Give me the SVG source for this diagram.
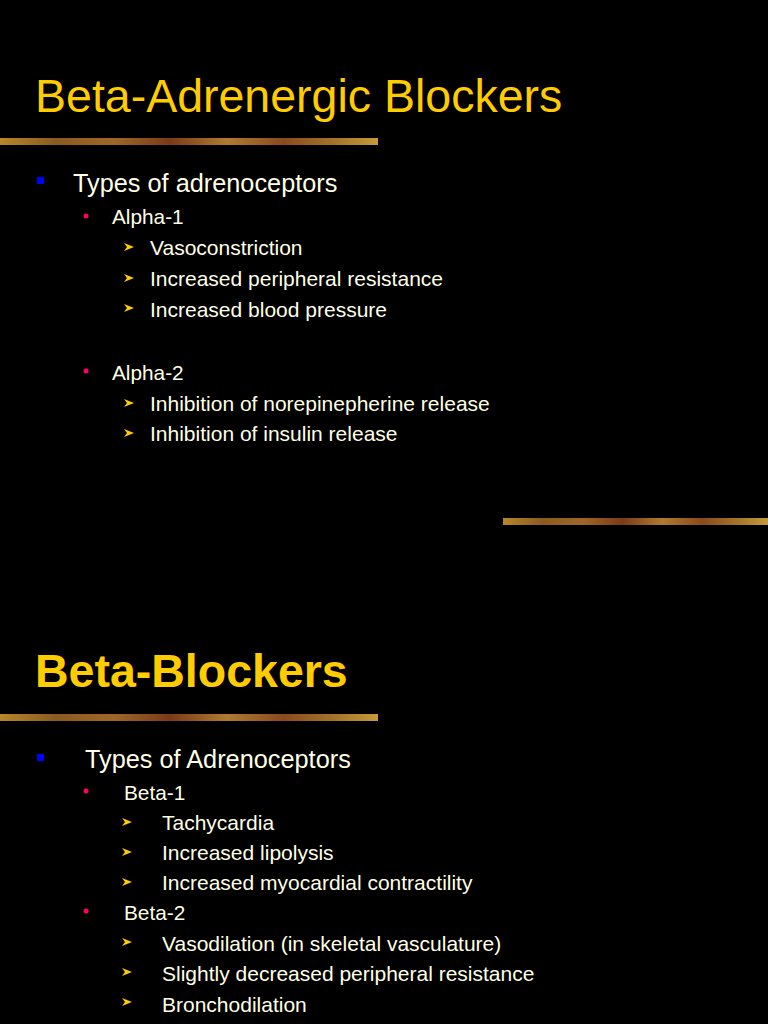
<svg xmlns="http://www.w3.org/2000/svg" width="768" height="1024" viewBox="0 0 768 1024">
<defs>
<linearGradient id="bar" x1="0" x2="1" y1="0" y2="0">
<stop offset="0" stop-color="#b8862a"/><stop offset="0.15" stop-color="#8a5a20"/><stop offset="0.3" stop-color="#a06628"/><stop offset="0.45" stop-color="#7a3a18"/><stop offset="0.6" stop-color="#b07a30"/><stop offset="0.75" stop-color="#8a4a1e"/><stop offset="0.9" stop-color="#a8782c"/><stop offset="1" stop-color="#c89a3a"/>
</linearGradient>
<style>
.t{font-family:"Liberation Sans",Arial,sans-serif;fill:#ffcc00}
.b{font-family:"Liberation Sans",Arial,sans-serif;fill:#ffffe6}
.l1{font-size:25.3px}.l2{font-size:20.8px}.l3{font-size:21px}
.ar{fill:#ffcc00}
</style>
</defs>
<rect width="768" height="1024" fill="#000"/>
<text class="t" x="35" y="112" font-size="46.5">Beta-Adrenergic Blockers</text>
<rect x="0" y="138" width="378" height="7" fill="url(#bar)"/>
<rect x="37" y="177" width="7" height="7" fill="#0000ff"/>
<text class="b l1" x="73" y="192">Types of adrenoceptors</text>
<circle cx="86" cy="216" r="2.5" fill="#ff0066"/>
<text class="b l2" x="112" y="224">Alpha-1</text>
<g class="ar">
<path d="M124,243 l10,4 l-10,4 l3,-4z"/><path d="M124,274 l10,4 l-10,4 l3,-4z"/><path d="M124,304 l10,4 l-10,4 l3,-4z"/>
<path d="M124,399 l10,4 l-10,4 l3,-4z"/><path d="M124,429 l10,4 l-10,4 l3,-4z"/>
<path d="M122,818 l10,4 l-10,4 l3,-4z"/><path d="M122,848 l10,4 l-10,4 l3,-4z"/><path d="M122,878 l10,4 l-10,4 l3,-4z"/>
<path d="M122,938 l10,4 l-10,4 l3,-4z"/><path d="M122,968 l10,4 l-10,4 l3,-4z"/><path d="M122,998 l10,4 l-10,4 l3,-4z"/>
</g>
<text class="b l3" x="150" y="255">Vasoconstriction</text>
<text class="b l3" x="150" y="286">Increased peripheral resistance</text>
<text class="b l3" x="150" y="317">Increased blood pressure</text>
<circle cx="86" cy="371" r="2.5" fill="#ff0066"/>
<text class="b l2" x="112" y="380">Alpha-2</text>
<text class="b l3" x="150" y="411">Inhibition of norepinepherine release</text>
<text class="b l3" x="150" y="441">Inhibition of insulin release</text>
<rect x="503" y="518" width="265" height="7" fill="url(#bar)"/>
<text class="t" x="35" y="687" font-size="46.5" font-weight="bold">Beta-Blockers</text>
<rect x="0" y="714" width="378" height="7" fill="url(#bar)"/>
<rect x="37" y="754" width="7" height="7" fill="#0000ff"/>
<text class="b l1" x="85" y="768">Types of Adrenoceptors</text>
<circle cx="86" cy="791" r="2.5" fill="#ff0066"/>
<text class="b l2" x="124" y="800">Beta-1</text>
<text class="b l3" x="162" y="830">Tachycardia</text>
<text class="b l3" x="162" y="860">Increased lipolysis</text>
<text class="b l3" x="162" y="890">Increased myocardial contractility</text>
<circle cx="86" cy="911" r="2.5" fill="#ff0066"/>
<text class="b l2" x="124" y="920">Beta-2</text>
<text class="b l3" x="162" y="951">Vasodilation (in skeletal vasculature)</text>
<text class="b l3" x="162" y="981">Slightly decreased peripheral resistance</text>
<text class="b l3" x="162" y="1012">Bronchodilation</text>
</svg>
